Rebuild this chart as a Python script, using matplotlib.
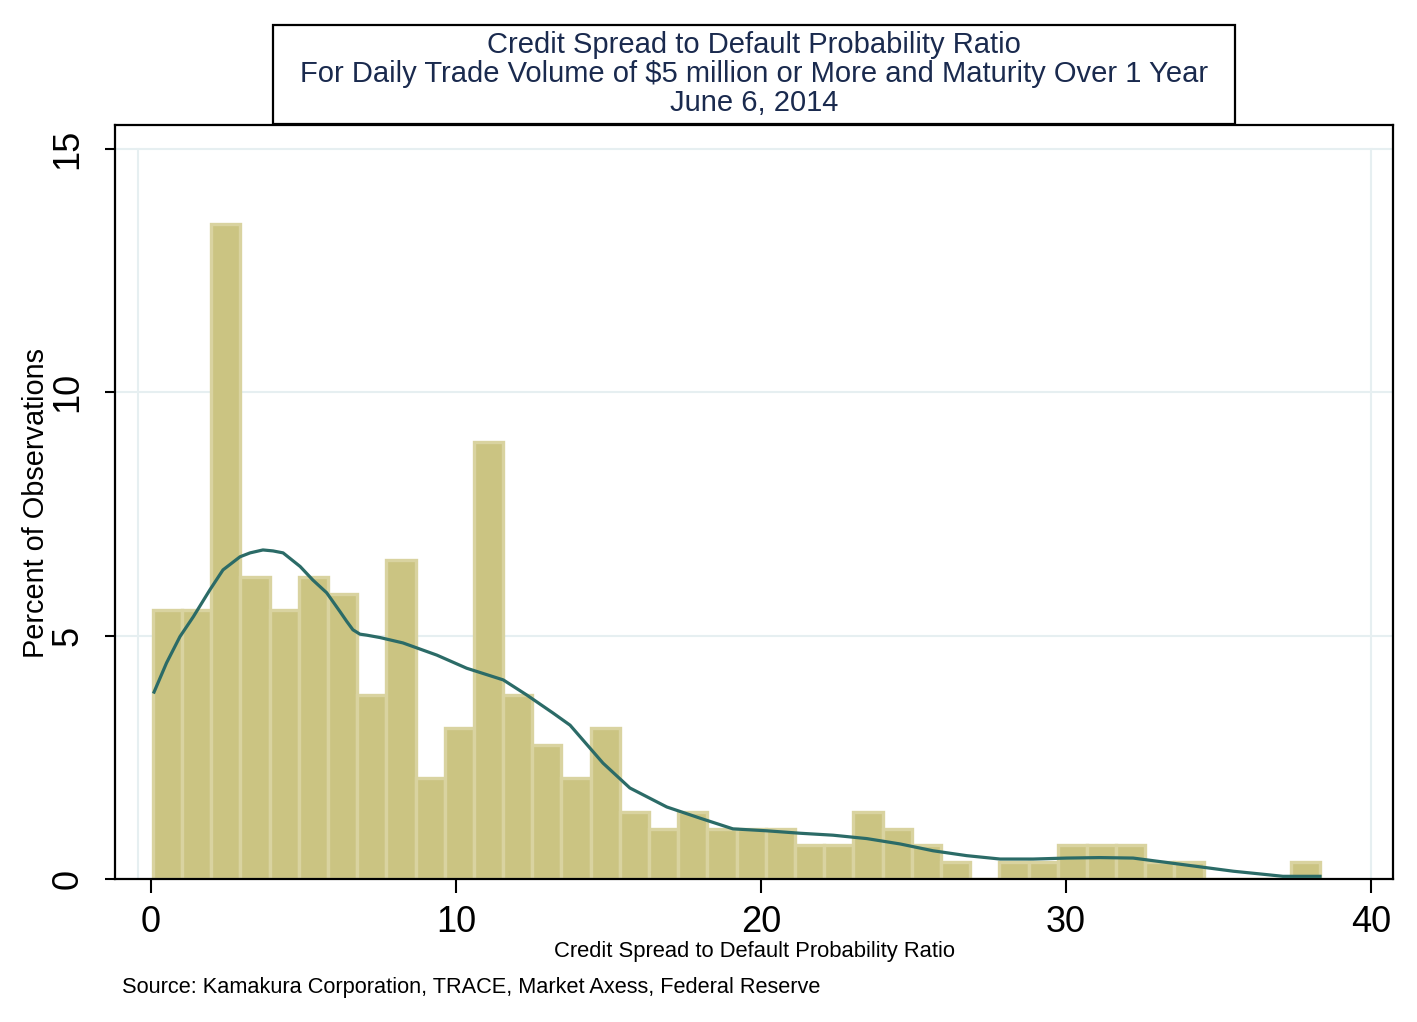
"""Histogram + kernel density of the credit spread / default probability ratio."""

import matplotlib
matplotlib.use("Agg")
import matplotlib.pyplot as plt
from matplotlib.patches import Rectangle
import numpy as np

plt.rcParams["font.family"] = ["Liberation Sans", "DejaVu Sans"]

# ── Data ───────────────────────────────────────────────────────────────────────
BIN_START = 0.06
BIN_WIDTH = 0.957
pct = [5.52, 5.52, 13.45, 6.21, 5.52, 6.21, 5.86, 3.79, 6.55, 2.07,
       3.10, 8.97, 3.79, 2.76, 2.07, 3.10, 1.38, 1.03, 1.38, 1.03,
       1.03, 1.03, 0.69, 0.69, 1.38, 1.03, 0.69, 0.34, 0.00, 0.34,
       0.34, 0.69, 0.69, 0.69, 0.34, 0.34, 0.00, 0.00, 0.00, 0.34]

kde_x = [0.08, 0.51, 0.95, 1.39, 1.93, 2.36, 2.92, 3.25, 3.67, 4.00,
         4.33, 4.89, 5.31, 5.76, 6.20, 6.42, 6.62, 6.85, 7.07, 7.51,
         8.26, 9.37, 10.35, 11.55, 12.32, 13.18, 13.74, 14.82, 15.70, 16.91,
         18.00, 19.08, 20.19, 21.28, 22.36, 23.47, 24.56, 25.64, 26.74, 27.84,
         28.92, 30.02, 31.11, 32.20, 33.30, 34.39, 35.48, 36.58, 37.11, 38.38]
kde_y = [3.81, 4.44, 4.98, 5.39, 5.94, 6.35, 6.62, 6.70, 6.76, 6.74,
         6.70, 6.42, 6.14, 5.88, 5.49, 5.29, 5.12, 5.03, 5.01, 4.96,
         4.85, 4.60, 4.33, 4.09, 3.78, 3.41, 3.16, 2.38, 1.87, 1.48,
         1.25, 1.03, 0.99, 0.94, 0.90, 0.83, 0.72, 0.58, 0.48, 0.41,
         0.41, 0.43, 0.44, 0.43, 0.34, 0.25, 0.16, 0.09, 0.055, 0.055]

xticks = [0, 10, 20, 30, 40]
yticks = [0, 5, 10, 15]
vgrid = [-0.43, 40]

TITLE = ["Credit Spread to Default Probability Ratio",
         "For Daily Trade Volume of $5 million or More and Maturity Over 1 Year",
         "June 6, 2014"]

# ── Styles ─────────────────────────────────────────────────────────────────────
W, H = 1417, 1022
BAR_FILL = "#CBC482"
BAR_EDGE = "#D9D3A0"
KDE_COLOR = "#2B6B67"
GRID = "#E6EFF1"
TITLE_COLOR = "#1A2A4E"

fig = plt.figure(figsize=(W / 100, H / 100), dpi=100)
ax = fig.add_axes([115 / W, 1 - 879 / H, (1393 - 115) / W, (879 - 125) / H])

# ── Grid ───────────────────────────────────────────────────────────────────────
for yv in yticks[1:]:
    ax.axhline(yv, color=GRID, linewidth=1.5, zorder=0)
for xv in vgrid:
    ax.plot([xv, xv], [0, 15], color=GRID, linewidth=1.5, zorder=0)

# ── Bars ───────────────────────────────────────────────────────────────────────
lefts = BIN_START + BIN_WIDTH * np.arange(len(pct))
ax.bar(lefts, pct, width=BIN_WIDTH, align="edge", color=BAR_FILL,
       edgecolor=BAR_EDGE, linewidth=2.4, zorder=2)

# ── KDE line ───────────────────────────────────────────────────────────────────
ax.plot(kde_x, kde_y, color=KDE_COLOR, linewidth=2.3, zorder=3,
        solid_joinstyle="round", solid_capstyle="butt")

ax.set_xlim(-1.18, 40.72)
ax.set_ylim(0, 15.49)
ax.set_xticks(xticks)
ax.set_yticks(yticks)
ax.tick_params(axis="x", length=10, width=1.5, pad=9, labelsize=26)
ax.tick_params(axis="y", length=7.5, width=1.5, pad=14, labelsize=26)
for lab in ax.get_yticklabels():
    lab.set_rotation(90)
    lab.set_va("center")
for sp in ax.spines.values():
    sp.set_linewidth(1.6)

# ── Texts ──────────────────────────────────────────────────────────────────────
fig.text(36 / W, 1 - 503 / H, "Percent of Observations", rotation=90,
         ha="center", va="center", fontsize=20.8)
fig.text(754 / W, 1 - 952 / H, "Credit Spread to Default Probability Ratio",
         ha="center", va="center", fontsize=15.8)
fig.text(122 / W, 1 - 987 / H,
         "Source: Kamakura Corporation, TRACE, Market Axess, Federal Reserve",
         ha="left", va="center", fontsize=15.7)

fig.patches.append(Rectangle((273 / W, 1 - 124 / H), (1235 - 273) / W, (124 - 25) / H,
                             transform=fig.transFigure, fill=False,
                             edgecolor="black", linewidth=1.6))
for yy, line in zip([45, 74, 103], TITLE):
    fig.text(754 / W, 1 - yy / H, line, ha="center", va="center",
             fontsize=21, color=TITLE_COLOR)

fig.savefig("out.png", dpi=100)
